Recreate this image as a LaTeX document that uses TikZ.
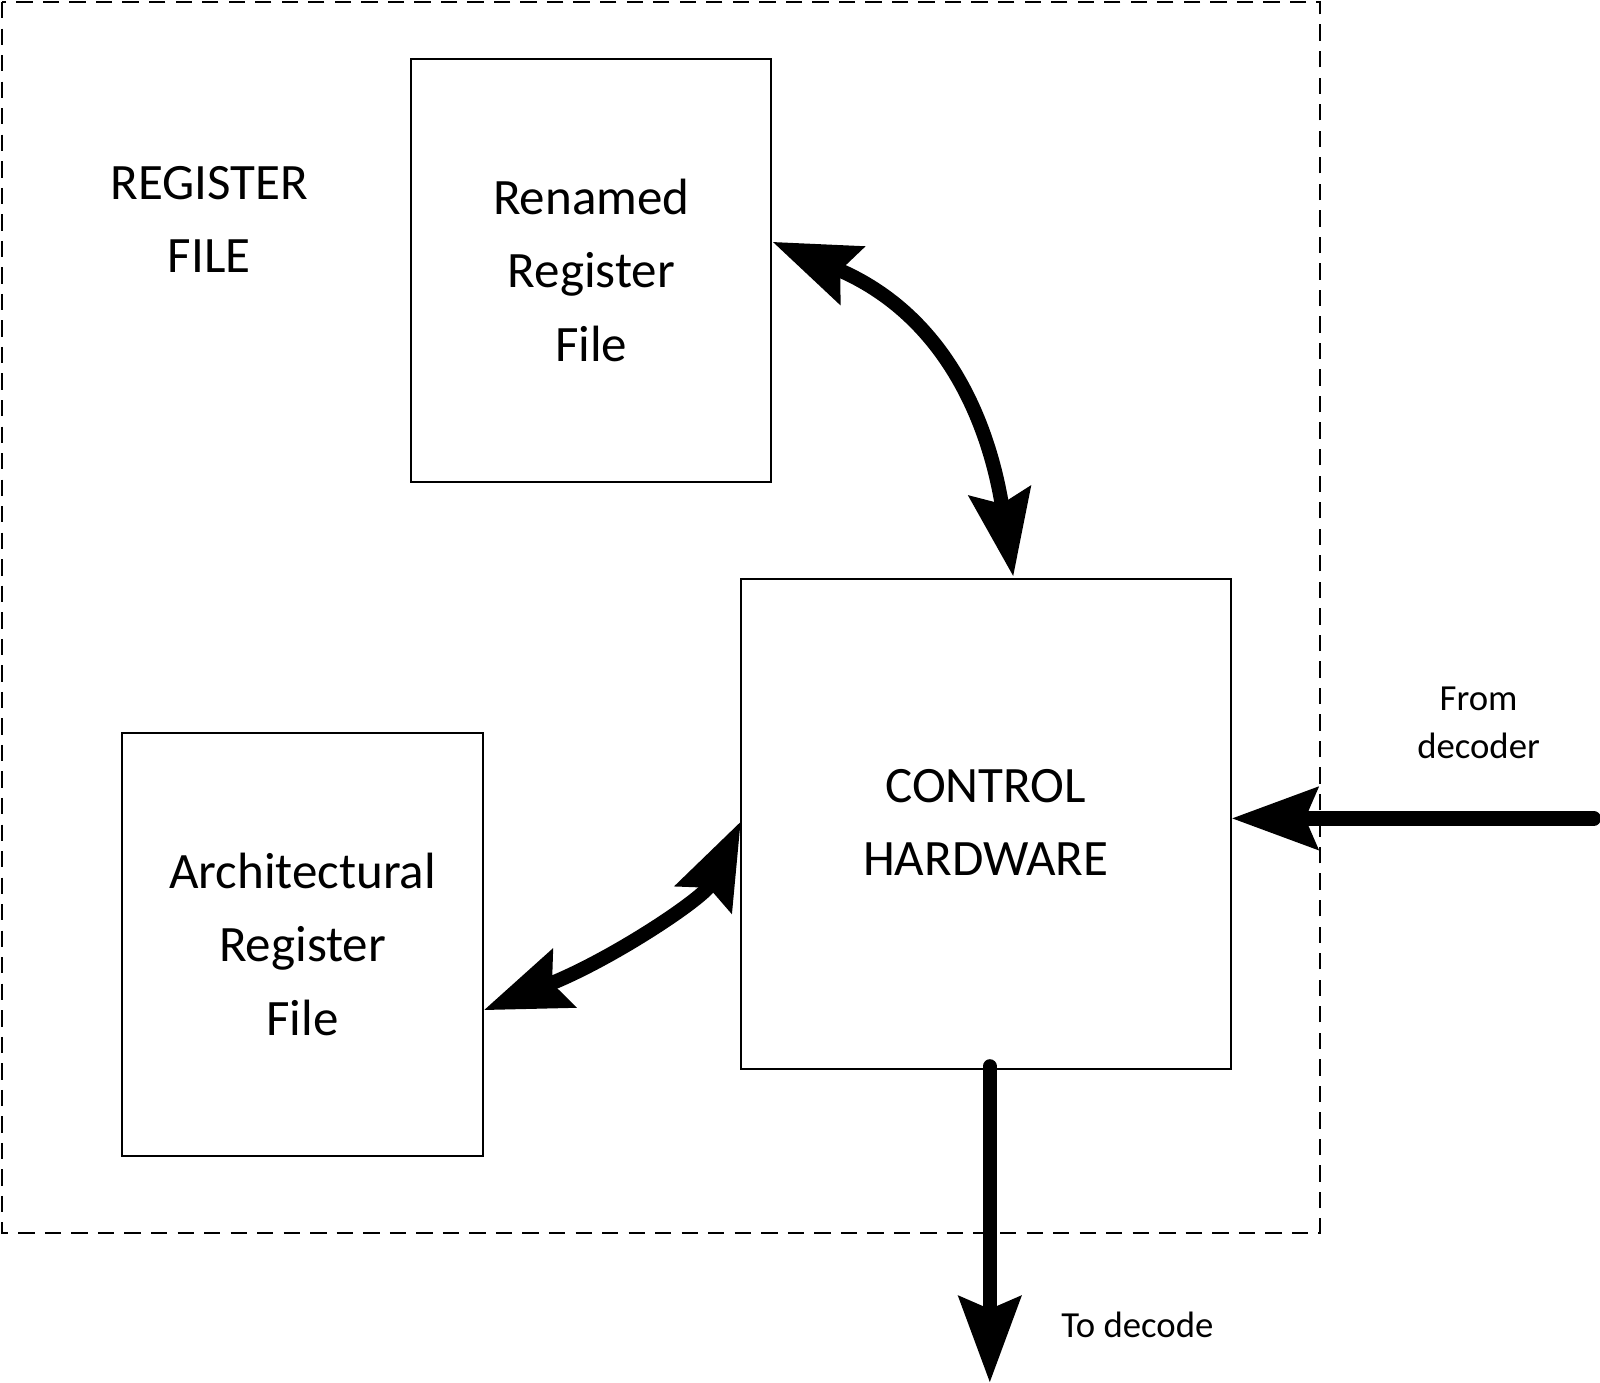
\documentclass[tikz,border=0pt]{standalone}
\usepackage{fontspec}
\setmainfont{Carlito}
\usetikzlibrary{arrows.meta}
\begin{document}
\begin{tikzpicture}[x=0.5pt,y=-0.5pt,
 box/.style={draw,line width=1pt,inner sep=0pt},
 big/.style={font=\fontsize{25}{36}\selectfont,align=center},
 small/.style={font=\fontsize{18}{23.5}\selectfont,align=center},
 arr/.style={line width=7pt,-{Stealth[length=42pt,width=30pt,inset=6pt]}},
 darr/.style={line width=7pt,{Stealth[length=42pt,width=30pt,inset=6pt]}-{Stealth[length=42pt,width=30pt,inset=6pt]}}]
\useasboundingbox (0,0) rectangle (1568,1355);
\draw[dashed,line width=1pt,dash pattern=on 8pt off 5pt] (2,2) rectangle (1294,1208);
\node[box,minimum width=176.5pt,minimum height=207pt] (ren) at (579.5,265) {};
\node[big] at (ren) {Renamed\\Register\\File};
\node[box,minimum width=176.5pt,minimum height=207.5pt] (arch) at (296.5,925.5) {};
\node[big] at (arch) {Architectural\\Register\\File};
\node[box,minimum width=240pt,minimum height=240.5pt] (ctl) at (966,807.5) {};
\node[big] at (966,806) {CONTROL\\HARDWARE};
\node[big] (rf) at (205,215) {REGISTER\\FILE};
\node[small] (fd) at (1449,708) {From\\decoder};
\node[small,anchor=west] (td) at (1033,1298) {To decode};
\coordinate (in) at (1562,802);
\coordinate (out) at (970,1355);
\draw[arr,line cap=round] (in) -- (ctl.east |- in);
\draw[arr,line cap=round] (970,1045) -- (out);
\draw[darr] (757,237) .. controls (930,310) and (970,420) .. (993,565);
\draw[darr] (474,990) .. controls (600,940) and (690,880) .. (726,805);
\end{tikzpicture}
\end{document}
